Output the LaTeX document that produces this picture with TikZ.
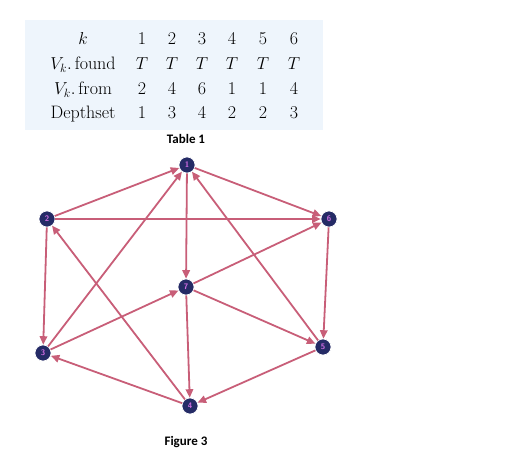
\documentclass[tikz,border=0pt]{standalone}
\usepackage{fontspec}
\newfontfamily\capfont{Carlito}
\usetikzlibrary{arrows.meta}
\definecolor{tblbg}{HTML}{EEF5FC}
\definecolor{edgecol}{HTML}{C85E78}
\definecolor{nodecol}{HTML}{252B66}
\definecolor{labcol}{HTML}{D46EE6}
\begin{document}
\begin{tikzpicture}[x=1pt,y=-1pt,
  tcell/.style={anchor=base,inner sep=0pt,font=\fontsize{18}{22}\selectfont},
  vert/.style={circle,fill=nodecol,draw=white,line width=0.6pt,minimum size=16pt,inner sep=0pt,
    text=labcol,font=\sffamily\bfseries\fontsize{8}{9}\selectfont},
  edge/.style={draw=edgecol,line width=1.8pt,-{Triangle[length=8.5pt,width=7.5pt]}},
  caption/.style={font=\capfont\bfseries\fontsize{13}{15}\selectfont,inner sep=0pt}]
\useasboundingbox (0,0) rectangle (507,452);
\fill[tblbg] (25,20) rectangle (323,130);
% table
\node[tcell] (h0) at (83,45) {$k$};
\node[tcell] (h1) at (142,45) {1};
\node[tcell] (h2) at (172,45) {2};
\node[tcell] (h3) at (202,45) {3};
\node[tcell] (h4) at (232,45) {4};
\node[tcell] (h5) at (263,45) {5};
\node[tcell] (h6) at (294,45) {6};
\node[tcell] (f0) at (83,70) {$V_k.\,$found};
\node[tcell] (f1) at (142,70) {$T$};
\node[tcell] (f2) at (172,70) {$T$};
\node[tcell] (f3) at (202,70) {$T$};
\node[tcell] (f4) at (232,70) {$T$};
\node[tcell] (f5) at (263,70) {$T$};
\node[tcell] (f6) at (294,70) {$T$};
\node[tcell] (r0) at (83,95) {$V_k.\,$from};
\node[tcell] (r1) at (142,95) {2};
\node[tcell] (r2) at (172,95) {4};
\node[tcell] (r3) at (202,95) {6};
\node[tcell] (r4) at (232,95) {1};
\node[tcell] (r5) at (263,95) {1};
\node[tcell] (r6) at (294,95) {4};
\node[tcell] (d0) at (83,119) {Depthset};
\node[tcell] (d1) at (142,119) {1};
\node[tcell] (d2) at (172,119) {3};
\node[tcell] (d3) at (202,119) {4};
\node[tcell] (d4) at (232,119) {2};
\node[tcell] (d5) at (263,119) {2};
\node[tcell] (d6) at (294,119) {3};
\node[caption] (tcap) at (186,139) {Table 1};
% graph
\node[vert] (n1) at (187,165) {1};
\node[vert] (n2) at (47,219) {2};
\node[vert] (n6) at (329,219) {6};
\node[vert] (n7) at (186,287) {7};
\node[vert] (n3) at (43,353) {3};
\node[vert] (n5) at (323,347) {5};
\node[vert] (n4) at (190,406) {4};
\path[edge] (n2) -- (n1);
\path[edge] (n3) -- (n1);
\path[edge] (n5) -- (n1);
\path[edge] (n1) -- (n6);
\path[edge] (n1) -- (n7);
\path[edge] (n2) -- (n6);
\path[edge] (n7) -- (n6);
\path[edge] (n2) -- (n3);
\path[edge] (n6) -- (n5);
\path[edge] (n3) -- (n7);
\path[edge] (n7) -- (n5);
\path[edge] (n7) -- (n4);
\path[edge] (n4) -- (n2);
\path[edge] (n5) -- (n4);
\path[edge] (n4) -- (n3);
\node[caption] (fcap) at (186,442) {Figure 3};
\end{tikzpicture}
\end{document}
